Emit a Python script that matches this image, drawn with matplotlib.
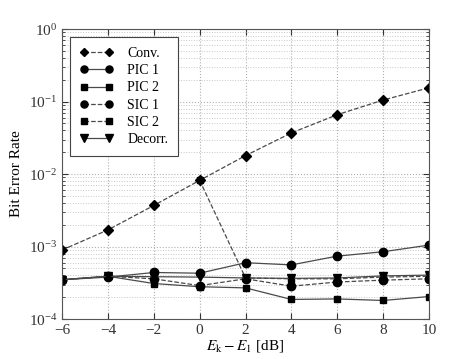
import matplotlib
matplotlib.use('Agg')
import matplotlib.pyplot as plt
import numpy as np
from matplotlib.ticker import LogLocator, NullFormatter

plt.rcParams['font.family'] = ['Liberation Serif', 'DejaVu Serif']
plt.rcParams['mathtext.fontset'] = 'stix'

snr = [-6, -4, -2, 0, 2, 4, 6, 8, 10]

conv = [9.0e-4, 1.7e-3, 3.7e-3, 8.2e-3, 1.8e-2, 3.7e-2, 6.6e-2, 1.05e-1, 1.55e-1]
pic1 = [3.5e-4, 3.8e-4, 4.4e-4, 4.3e-4, 6.0e-4, 5.6e-4, 7.4e-4, 8.5e-4, 1.05e-3]
pic2 = [3.5e-4, 3.9e-4, 3.1e-4, 2.8e-4, 2.7e-4, 1.87e-4, 1.9e-4, 1.81e-4, 2.05e-4]
sic1 = [3.5e-4, 3.9e-4, 3.6e-4, 2.9e-4, 3.6e-4, 2.85e-4, 3.25e-4, 3.45e-4, 3.6e-4]
# SIC 2 curve is only visible from 0 dB on (it starts on the Conv. point)
sic2 = [np.nan, np.nan, np.nan, 8.2e-3, 3.7e-4, 3.6e-4, 3.6e-4, 3.8e-4, 3.9e-4]
decorr = [3.5e-4, 3.9e-4, 3.85e-4, 3.8e-4, 3.7e-4, 3.65e-4, 3.7e-4, 3.95e-4, 4.05e-4]

fig = plt.figure(figsize=(4.74, 3.59), dpi=100)
ax = fig.add_axes([0.131, 0.111, 0.774, 0.808])

lc = '#4a4a4a'
kw = dict(color=lc, lw=0.9, mfc='black', mec='black')
ax.semilogy(snr, conv, '--D', ms=5, label='Conv.', **kw)
ax.semilogy(snr, pic1, '-o', ms=6, label='PIC 1', **kw)
ax.semilogy(snr, pic2, '-s', ms=5, label='PIC 2', **kw)
ax.semilogy(snr, sic1, '--o', ms=6, label='SIC 1', **kw)
ax.semilogy(snr, sic2, '--s', ms=5, label='SIC 2', **kw)
ax.semilogy(snr, decorr, '-v', ms=6, label='Decorr.', **kw)

ax.set_xlim(-6, 10)
ax.set_ylim(1e-4, 1)
ax.set_xticks(snr)
ax.set_xticklabels(['\u22126', '\u22124', '\u22122', '0', '2', '4', '6', '8', '10'])
ax.yaxis.set_major_locator(LogLocator(base=10, numticks=10))
ax.yaxis.set_minor_locator(LogLocator(base=10, subs=range(2, 10), numticks=20))
ax.yaxis.set_minor_formatter(NullFormatter())

ax.grid(True, which='major', ls=':', color='#b0b0b0', lw=0.8)
ax.grid(True, which='minor', axis='y', ls=':', color='#c8c8c8', lw=0.7)
ax.tick_params(which='both', direction='in', top=True, right=True, labelsize=11, colors='#333333')
ax.tick_params(which='major', length=4)
ax.tick_params(which='minor', length=2)
for s in ax.spines.values():
    s.set_color('#555555')

ax.set_xlabel(r'$E_\mathrm{k} - E_1$ [dB]', fontsize=11, labelpad=1)
ax.set_ylabel('Bit Error Rate', fontsize=11)

leg = ax.legend(loc='upper left', fontsize=10, fancybox=False, framealpha=1,
                edgecolor='#444444', handlelength=2.4, borderpad=0.7, labelspacing=0.3,
                handletextpad=1.0, borderaxespad=0.6, numpoints=2, markerscale=0.85)
leg.get_frame().set_linewidth(0.8)

fig.savefig('out.png', dpi=100)
